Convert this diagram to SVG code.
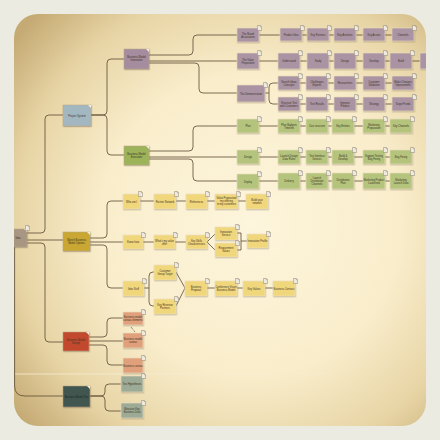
<svg xmlns="http://www.w3.org/2000/svg" xmlns:xlink="http://www.w3.org/1999/xlink" width="440" height="440" viewBox="0 0 440 440">
<defs>
<radialGradient id="vig" cx="250" cy="225" r="300" gradientUnits="userSpaceOnUse">
<stop offset="0" stop-color="#fdf5dc"/>
<stop offset="0.5" stop-color="#f9edcb"/>
<stop offset="0.78" stop-color="#e8d5a6"/>
<stop offset="1" stop-color="#c5aa74"/>
</radialGradient>
<clipPath id="card"><rect x="14" y="14" width="412" height="412" rx="24"/></clipPath>
<filter id="sh" x="-20%" y="-20%" width="140%" height="150%">
<feDropShadow dx="0.5" dy="0.8" stdDeviation="0.5" flood-color="#5e4b2c" flood-opacity="0.45"/>
</filter>
<symbol id="note" viewBox="0 0 6 7" width="5" height="6">
<path d="M0.5,0.5 H4 L5.5,2 V6.5 H0.5 Z" fill="#eeeae0" stroke="#8a8070" stroke-width="0.6"/>
<path d="M4,0.5 V2 H5.5" fill="none" stroke="#8a8070" stroke-width="0.5"/>
</symbol>
<style>
.node rect{filter:url(#sh);stroke:#efe2c4;stroke-width:0.6}
.main rect{stroke:#b9a888;stroke-width:0.5}
.root rect{fill:#a89683}
.blue rect{fill:#a3b7c0}
.pm rect{fill:#a68c9f}
.pc rect{fill:#aa93a2}
.gm rect{fill:#9cb35a}
.gc rect{fill:#b4c47b}
.mm rect{fill:#c9a732}
.mc rect{fill:#f1d77c}
.rm rect{fill:#c34a2d}
.rc rect{fill:#e0a07b}
.tm rect{fill:#41564f}
.tc rect{fill:#9daa95}
text{font-family:"Liberation Sans",Arial,sans-serif;font-size:2.6px;fill:#3f3526;text-anchor:middle}
.tm text{fill:#1d2824}
.ear{fill:#f6efdf}
#connectors path{fill:none;stroke:#5a4934;stroke-width:0.8}
</style>
</defs>
<rect width="440" height="440" fill="#ecebe2"/>
<rect x="14" y="14" width="412" height="412" rx="24" fill="url(#vig)"/>
<g clip-path="url(#card)">
<line x1="15" y1="374" x2="330" y2="374" stroke="#f6ecd2" stroke-width="0.8"/>
<g id="connectors">
<path d="M27,233 H41 Q45,233 45,229 V119 Q45,115 49,115 H63"/>
<path d="M27,240 H63"/>
<path d="M27,243 H41 Q45,243 45,247 V338 Q45,342 49,342 H63"/>
<path d="M14.6,247 V386 Q14.6,396 25,396 H63"/>
<path d="M91,115 H103 Q107,115 107,111 V63 Q107,59 111,59 H124"/>
<path d="M91,115 H103 Q107,115 107,119 V151 Q107,155 111,155 H124"/>
<path d="M149,55 H189 Q193,55 193,51 V39 Q193,35 197,35 H237"/>
<path d="M149,61 H237"/>
<path d="M149,63 H195 Q199,63 199,67 V89 Q199,93 203,93 H237"/>
<path d="M149,151 H189 Q193,151 193,147 V130 Q193,126 197,126 H237"/>
<path d="M149,157 H237"/>
<path d="M149,159 H189 Q193,159 193,163 V177 Q193,181 197,181 H237"/>
<path d="M259,35 H280 M302,35 H307 M329,35 H334 M356,35 H363 M385,35 H392"/>
<path d="M259,61 H278 M300,61 H307 M329,61 H334 M356,61 H363 M385,61 H390 M412,61 H420"/>
<path d="M265,93 H269 M278,83 H273 Q269,83 269,87 V100 Q269,104 273,104 H278"/>
<path d="M300,83 H306 M328,83 H334 M356,83 H363 M385,83 H392"/>
<path d="M300,104 H306 M328,104 H334 M356,104 H363 M385,104 H392"/>
<path d="M259,126 H278 M300,126 H306 M328,126 H332 M354,126 H363 M385,126 H390"/>
<path d="M259,157 H278 M300,157 H306 M328,157 H332 M354,157 H363 M385,157 H390"/>
<path d="M259,181 H278 M300,181 H306 M328,181 H332 M354,181 H363 M385,181 H390"/>
<path d="M90,238 H103 Q107,238 107,234 V205 Q107,201 111,201 H123"/>
<path d="M90,242 H123"/>
<path d="M90,245 H103 Q107,245 107,249 V284 Q107,288 111,288 H123"/>
<path d="M140,201 H154 M176,201 H186 M207,201 H215 M238,201 H246"/>
<path d="M143,242 H154 M175,242 H186"/>
<path d="M207,242 L215,234 M207,242 L215,250"/>
<path d="M237,233 H241 V250 H237 M241,241 H247"/>
<path d="M144,288 H149 M154,272 H153 Q149,272 149,276 V302 Q149,306 153,306 H154"/>
<path d="M176,272 L185,288 M176,306 L185,288"/>
<path d="M207,288 H215 M237,288 H243 M265,288 H273"/>
<path d="M89,337 H103 Q107,337 107,333 V322 Q107,318 111,318 H123"/>
<path d="M89,341 H123"/>
<path d="M89,345 H103 Q107,345 107,349 V361 Q107,365 111,365 H123"/>
<path d="M131,327 L135,332" stroke-dasharray="1 0.7"/>
<path d="M90,396 H101 Q105,396 105,392 V388 Q105,384 109,384 H121"/>
<path d="M90,396 H101 Q105,396 105,400 V407 Q105,411 109,411 H121"/>
</g>

<g id="n-root" class="node main root"><rect x="10" y="229" width="17" height="18"/><polygon class="ear" points="24,229 27,229 27,232"/><use href="#note" x="25" y="225"/><text x="18" y="239">Idea</text></g>

<g id="n-blue" class="node main blue"><rect x="63" y="105" width="28" height="21"/><polygon class="ear" points="88,105 91,105 91,108"/><text x="77" y="116.5">Project System</text></g>
<g id="n-purple" class="node main pm"><rect x="124" y="49" width="25" height="20"/><polygon class="ear" points="146,49 149,49 149,52"/><text x="136.5" y="58">Business Model<tspan x="136.5" dy="3">Innovation</tspan></text></g>
<g id="n-green" class="node main gm"><rect x="124" y="146" width="25" height="19"/><polygon class="ear" points="146,146 149,146 149,149"/><text x="136.5" y="155">Business Model<tspan x="136.5" dy="3">Execution</tspan></text></g>
<g id="n-mustard" class="node main mm"><rect x="63" y="232" width="27" height="19"/><polygon class="ear" points="87,232 90,232 90,235"/><text x="76.5" y="241">Sketch Business<tspan x="76.5" dy="3">Model Options</tspan></text></g>
<g id="n-red" class="node main rm"><rect x="63" y="332" width="26" height="19"/><polygon class="ear" points="86,332 89,332 89,335"/><text x="76" y="341">Business Model<tspan x="76" dy="3">Design</tspan></text></g>
<g id="n-teal" class="node main tm"><rect x="63" y="386" width="27" height="21"/><polygon class="ear" points="87,386 90,386 90,389"/><text x="76.5" y="397.5">Business Model Test</text></g>

<!-- purple branch -->
<g id="n-p1" class="node pc"><rect x="237" y="28" width="22" height="14"/><use href="#note" x="257" y="25"/><text x="248" y="34.5">The Brand<tspan x="248" dy="3">Association</tspan></text></g>
<g id="n-p1a" class="node pc"><rect x="280" y="28" width="22" height="13"/><use href="#note" x="300" y="25"/><text x="291" y="35.5">Product Idea</text></g>
<g id="n-p1b" class="node pc"><rect x="307" y="28" width="22" height="13"/><use href="#note" x="327" y="25"/><text x="318" y="35.5">Key Partners</text></g>
<g id="n-p1c" class="node pc"><rect x="334" y="28" width="22" height="13"/><use href="#note" x="354" y="25"/><text x="345" y="35.5">Key Activities</text></g>
<g id="n-p1d" class="node pc"><rect x="363" y="28" width="22" height="13"/><use href="#note" x="383" y="25"/><text x="374" y="35.5">Key Assets</text></g>
<g id="n-p1e" class="node pc"><rect x="392" y="28" width="22" height="13"/><use href="#note" x="412" y="25"/><text x="403" y="35.5">Channels</text></g>

<g id="n-p2" class="node pc"><rect x="237" y="53" width="22" height="16"/><use href="#note" x="257" y="50"/><text x="248" y="60.5">The Value<tspan x="248" dy="3">Proposition</tspan></text></g>
<g id="n-p2a" class="node pc"><rect x="278" y="53" width="22" height="16"/><use href="#note" x="298" y="50"/><text x="289" y="62">Understand</text></g>
<g id="n-p2b" class="node pc"><rect x="307" y="53" width="22" height="16"/><use href="#note" x="327" y="50"/><text x="318" y="62">Study</text></g>
<g id="n-p2c" class="node pc"><rect x="334" y="53" width="22" height="16"/><use href="#note" x="354" y="50"/><text x="345" y="62">Design</text></g>
<g id="n-p2d" class="node pc"><rect x="363" y="53" width="22" height="16"/><use href="#note" x="383" y="50"/><text x="374" y="62">Develop</text></g>
<g id="n-p2e" class="node pc"><rect x="390" y="53" width="22" height="16"/><use href="#note" x="410" y="50"/><text x="401" y="62">Build</text></g>
<g id="n-p2f" class="node pc"><rect x="420" y="53" width="22" height="16"/><text x="431" y="62">Launch</text></g>

<g id="n-p3" class="node pc"><rect x="237" y="85" width="28" height="17"/><use href="#note" x="263" y="82"/><text x="251" y="94.5">The Demonstration</text></g>
<g id="n-p3a" class="node pc"><rect x="278" y="76" width="22" height="14"/><use href="#note" x="298" y="73"/><text x="289" y="82.5">Search Ideas<tspan x="289" dy="3">Concepts</tspan></text></g>
<g id="n-p3b" class="node pc"><rect x="306" y="76" width="22" height="14"/><use href="#note" x="326" y="73"/><text x="317" y="82.5">Challenges<tspan x="317" dy="3">Experts</tspan></text></g>
<g id="n-p3c" class="node pc"><rect x="334" y="76" width="22" height="14"/><use href="#note" x="354" y="73"/><text x="345" y="84">Researchers</text></g>
<g id="n-p3d" class="node pc"><rect x="363" y="76" width="22" height="14"/><use href="#note" x="383" y="73"/><text x="374" y="82.5">Customer<tspan x="374" dy="3">Validation</tspan></text></g>
<g id="n-p3e" class="node pc"><rect x="392" y="76" width="22" height="14"/><use href="#note" x="412" y="73"/><text x="403" y="82.5">Make Changes<tspan x="403" dy="3">Improvement</tspan></text></g>
<g id="n-p3f" class="node pc"><rect x="278" y="97" width="22" height="14"/><use href="#note" x="298" y="94"/><text x="289" y="103.5">Structure Test<tspan x="289" dy="3">with Customers</tspan></text></g>
<g id="n-p3g" class="node pc"><rect x="306" y="97" width="22" height="14"/><use href="#note" x="326" y="94"/><text x="317" y="105">Test Results</text></g>
<g id="n-p3h" class="node pc"><rect x="334" y="97" width="22" height="14"/><use href="#note" x="354" y="94"/><text x="345" y="103.5">Improve<tspan x="345" dy="3">Product</tspan></text></g>
<g id="n-p3i" class="node pc"><rect x="363" y="97" width="22" height="14"/><use href="#note" x="383" y="94"/><text x="374" y="105">Strategy</text></g>
<g id="n-p3j" class="node pc"><rect x="392" y="97" width="22" height="14"/><use href="#note" x="412" y="94"/><text x="403" y="105">Target Funds</text></g>

<!-- green branch -->
<g id="n-g1" class="node gc"><rect x="237" y="119" width="22" height="14"/><use href="#note" x="257" y="116"/><text x="248" y="127">Plan</text></g>
<g id="n-g1a" class="node gc"><rect x="278" y="119" width="22" height="14"/><use href="#note" x="298" y="116"/><text x="289" y="125.5">Plan Budgets<tspan x="289" dy="3">Timeline</tspan></text></g>
<g id="n-g1b" class="node gc"><rect x="306" y="119" width="22" height="14"/><use href="#note" x="326" y="116"/><text x="317" y="127">Cost structure</text></g>
<g id="n-g1c" class="node gc"><rect x="332" y="119" width="22" height="14"/><use href="#note" x="352" y="116"/><text x="343" y="127">Key Entities</text></g>
<g id="n-g1d" class="node gc"><rect x="363" y="119" width="22" height="14"/><use href="#note" x="383" y="116"/><text x="374" y="125.5">Marketing<tspan x="374" dy="3">Preparation</tspan></text></g>
<g id="n-g1e" class="node gc"><rect x="390" y="119" width="22" height="14"/><use href="#note" x="410" y="116"/><text x="401" y="127">Key Channels</text></g>

<g id="n-g2" class="node gc"><rect x="237" y="150" width="22" height="14"/><use href="#note" x="257" y="147"/><text x="248" y="158">Design</text></g>
<g id="n-g2a" class="node gc"><rect x="278" y="150" width="22" height="14"/><use href="#note" x="298" y="147"/><text x="289" y="156.5">Launch Design<tspan x="289" dy="3">Data Rules</tspan></text></g>
<g id="n-g2b" class="node gc"><rect x="306" y="150" width="22" height="14"/><use href="#note" x="326" y="147"/><text x="317" y="156.5">Test Interface<tspan x="317" dy="3">Devices</tspan></text></g>
<g id="n-g2c" class="node gc"><rect x="332" y="150" width="22" height="14"/><use href="#note" x="352" y="147"/><text x="343" y="156.5">Build &amp;<tspan x="343" dy="3">Develop</tspan></text></g>
<g id="n-g2d" class="node gc"><rect x="363" y="150" width="22" height="14"/><use href="#note" x="383" y="147"/><text x="374" y="156.5">Support Testing<tspan x="374" dy="3">Bug Fixing</tspan></text></g>
<g id="n-g2e" class="node gc"><rect x="390" y="150" width="22" height="14"/><use href="#note" x="410" y="147"/><text x="401" y="158">Bug Fixing</text></g>

<g id="n-g3" class="node gc"><rect x="237" y="174" width="22" height="15"/><use href="#note" x="257" y="171"/><text x="248" y="182.5">Deploy</text></g>
<g id="n-g3a" class="node gc"><rect x="278" y="173" width="22" height="16"/><use href="#note" x="298" y="170"/><text x="289" y="182">Delivery</text></g>
<g id="n-g3b" class="node gc"><rect x="306" y="173" width="22" height="16"/><use href="#note" x="326" y="170"/><text x="317" y="178.5">Launch<tspan x="317" dy="3">Distribution</tspan><tspan x="317" dy="3">Channels</tspan></text></g>
<g id="n-g3c" class="node gc"><rect x="332" y="173" width="22" height="16"/><use href="#note" x="352" y="170"/><text x="343" y="180.5">Distribution<tspan x="343" dy="3">Plan</tspan></text></g>
<g id="n-g3d" class="node gc"><rect x="363" y="173" width="22" height="16"/><use href="#note" x="383" y="170"/><text x="374" y="180.5">Marketing Product<tspan x="374" dy="3">Launched</tspan></text></g>
<g id="n-g3e" class="node gc"><rect x="390" y="173" width="22" height="16"/><use href="#note" x="410" y="170"/><text x="401" y="180.5">Marketing<tspan x="401" dy="3">Launch Data</tspan></text></g>

<!-- mustard branch -->
<g id="n-m1a" class="node mc"><rect x="123" y="194" width="17" height="15"/><use href="#note" x="138" y="191"/><text x="131.5" y="202.5">Who am I</text></g>
<g id="n-m1b" class="node mc"><rect x="154" y="194" width="22" height="15"/><use href="#note" x="174" y="191"/><text x="165" y="202.5">Partner Network</text></g>
<g id="n-m1c" class="node mc"><rect x="186" y="194" width="21" height="15"/><use href="#note" x="205" y="191"/><text x="196.5" y="202.5">References</text></g>
<g id="n-m1d" class="node mc"><rect x="215" y="194" width="23" height="15"/><use href="#note" x="236" y="191"/><text x="226.5" y="199">Value Proposition<tspan x="226.5" dy="3">my offering</tspan><tspan x="226.5" dy="3">to my customers</tspan></text></g>
<g id="n-m1e" class="node mc"><rect x="246" y="194" width="22" height="15"/><use href="#note" x="266" y="191"/><text x="257" y="201">Build your<tspan x="257" dy="3">network</tspan></text></g>

<g id="n-m2a" class="node mc"><rect x="123" y="235" width="20" height="14"/><use href="#note" x="141" y="232"/><text x="133" y="243">Know-how</text></g>
<g id="n-m2b" class="node mc"><rect x="154" y="235" width="21" height="14"/><use href="#note" x="173" y="232"/><text x="164.5" y="241.5">What's my value<tspan x="164.5" dy="3">offer</tspan></text></g>
<g id="n-m2c" class="node mc"><rect x="186" y="235" width="21" height="14"/><use href="#note" x="205" y="232"/><text x="196.5" y="241.5">Key Skills<tspan x="196.5" dy="3">Characteristics</tspan></text></g>
<g id="n-m2d" class="node mc"><rect x="215" y="227" width="22" height="13"/><use href="#note" x="235" y="224"/><text x="226" y="232.5">Innovation<tspan x="226" dy="3">Service</tspan></text></g>
<g id="n-m2e" class="node mc"><rect x="215" y="243" width="22" height="14"/><use href="#note" x="235" y="240"/><text x="226" y="249">Requirement<tspan x="226" dy="3">Values</tspan></text></g>
<g id="n-m2f" class="node mc"><rect x="247" y="234" width="21" height="14"/><use href="#note" x="266" y="231"/><text x="257.5" y="242">Innovation Profile</text></g>

<g id="n-m3a" class="node mc"><rect x="123" y="281" width="21" height="15"/><use href="#note" x="142" y="278"/><text x="133.5" y="289.5">Idea Stuff</text></g>
<g id="n-m3b" class="node mc"><rect x="154" y="265" width="22" height="15"/><use href="#note" x="174" y="262"/><text x="165" y="271.5">Customer<tspan x="165" dy="3">Group Target</tspan></text></g>
<g id="n-m3c" class="node mc"><rect x="154" y="299" width="22" height="15"/><use href="#note" x="174" y="296"/><text x="165" y="305.5">Key Revenue<tspan x="165" dy="3">Partners</tspan></text></g>
<g id="n-m3d" class="node mc"><rect x="185" y="281" width="22" height="15"/><use href="#note" x="205" y="278"/><text x="196" y="287.5">Business<tspan x="196" dy="3">Proposal</tspan></text></g>
<g id="n-m3e" class="node mc"><rect x="215" y="281" width="22" height="15"/><use href="#note" x="235" y="278"/><text x="226" y="287.5">Conference Vision<tspan x="226" dy="3">Business Model</tspan></text></g>
<g id="n-m3f" class="node mc"><rect x="243" y="281" width="22" height="15"/><use href="#note" x="263" y="278"/><text x="254" y="289.5">Key Values</text></g>
<g id="n-m3g" class="node mc"><rect x="273" y="281" width="22" height="15"/><use href="#note" x="293" y="278"/><text x="284" y="289.5">Business Contract</text></g>

<!-- red branch -->
<g id="n-r1" class="node rc"><rect x="123" y="312" width="20" height="13"/><use href="#note" x="141" y="309"/><text x="133" y="317.5">Business model<tspan x="133" dy="3">canvas elements</tspan></text></g>
<g id="n-r2" class="node rc"><rect x="123" y="333" width="20" height="15"/><use href="#note" x="141" y="330"/><text x="133" y="339.5">Business model<tspan x="133" dy="3">canvas</tspan></text></g>
<g id="n-r3" class="node rc"><rect x="123" y="358" width="20" height="15"/><use href="#note" x="141" y="355"/><text x="133" y="366.5">Business canvas</text></g>

<!-- teal branch -->
<g id="n-t1" class="node tc"><rect x="121" y="376" width="22" height="16"/><use href="#note" x="141" y="373"/><text x="132" y="385">Test Hypotheses</text></g>
<g id="n-t2" class="node tc"><rect x="121" y="403" width="22" height="15"/><use href="#note" x="141" y="400"/><text x="132" y="409.5">Measure Key<tspan x="132" dy="3">Business Data</tspan></text></g>
</g>
</svg>
